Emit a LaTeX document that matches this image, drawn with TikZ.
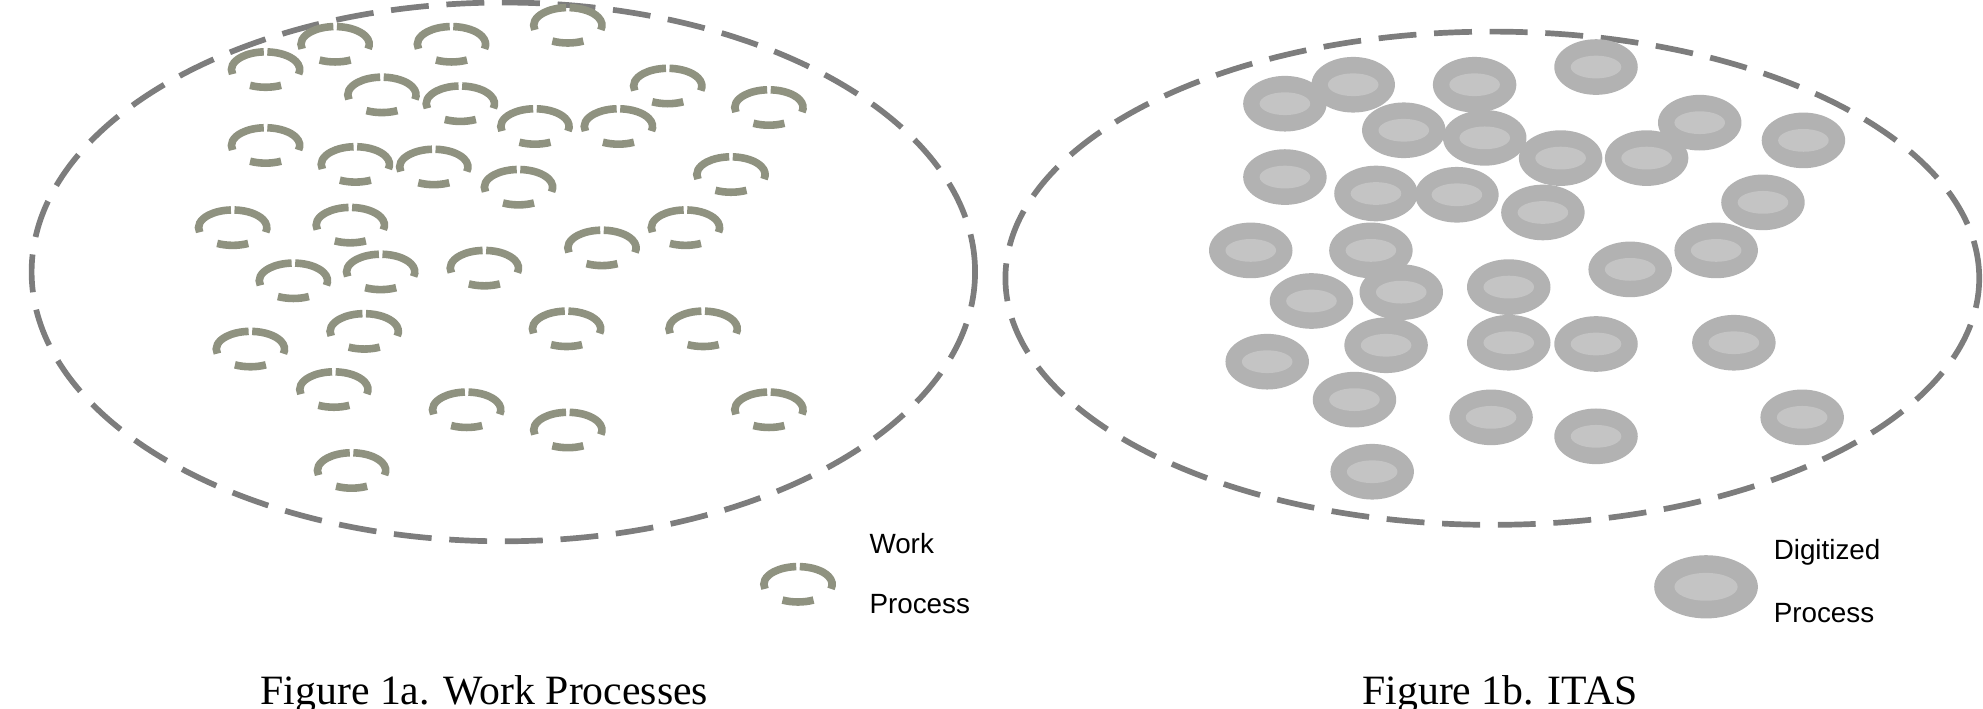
\documentclass[tikz,border=0pt]{standalone}
\usepackage{fontspec}
\setmainfont{Liberation Serif}
\setsansfont{Liberation Sans}
\begin{document}
\begin{tikzpicture}[x=1pt,y=-1pt,
  bigring/.style={draw={rgb,255:red,125;green,125;blue,125}, line width=4.5pt, dash pattern=on 30pt off 14pt},
  wp/.pic={\draw[wpc,line width=6pt] (195:27pt and 14pt) arc[start angle=195,end angle=93,x radius=27pt,y radius=14pt];
           \draw[wpc,line width=6pt] (87:27pt and 14pt) arc[start angle=87,end angle=-15,x radius=27pt,y radius=14pt];
           \draw[wpc,line width=6pt] (243:27pt and 14pt) arc[start angle=243,end angle=297,x radius=27pt,y radius=14pt];},
  dp/.pic={\fill[dpo] (0,0) ellipse[x radius=33pt,y radius=22pt]; \fill[dpi] (0,0) ellipse[x radius=20pt,y radius=9pt];},
  lbl/.style={font=\sffamily\fontsize{22}{24}\selectfont, anchor=west},
  captxt/.style={font=\fontsize{33}{35}\selectfont}]
\definecolor{wpc}{RGB}{143,146,128}
\definecolor{dpo}{RGB}{178,178,178}
\definecolor{dpi}{RGB}{196,196,196}
\useasboundingbox (0,0) rectangle (1568,560);
\draw[bigring] (398,215) ellipse[x radius=373pt,y radius=213pt];
\draw[bigring] (1180,220) ellipse[x radius=385pt,y radius=195pt];
\foreach \x/\y in {265/35,357/35,449/20,210/55,302/75,364/82,423/100,489/100,528/68,608/85,210/115,281/130,343/132,410/148,578/138,184/180,277/178,232/222,301/215,383/212,476/196,542/180,198/276,288/262,448/260,556/260,264/308,369/324,449/340,608/324,278/372,631/462}
  \pic at (\x,\y) {wp};
\foreach \x/\y in {1016/82,1070/67,1166/67,1262/53,1110/103,1174/109,1234/125,1302/125,1344/97,1426/111,1016/140,1088/153,1152/154,1220/168,1394/160,989/198,1084/198,1037/238,1108/231,1193/227,1289/213,1357/198,1002/286,1096/273,1193/271,1262/272,1371/271,1071/316,1179/330,1262/345,1425/330,1085/373}
  \pic at (\x,\y) {dp};
\fill[dpo] (1349,464) ellipse[x radius=41pt,y radius=25pt];
\fill[dpi] (1349,464) ellipse[x radius=25pt,y radius=11pt];
\node[lbl] (w1) at (684,430) {Work};
\node[lbl] (w2) at (684,478) {Process};
\node[lbl] (d1) at (1399,437) {Digitized};
\node[lbl] (d2) at (1399,485) {Process};
\node[captxt] (c1) at (383,549) {Figure 1a. Work Processes};
\node[captxt] (c2) at (1186,549) {Figure 1b. ITAS};
\end{tikzpicture}
\end{document}
